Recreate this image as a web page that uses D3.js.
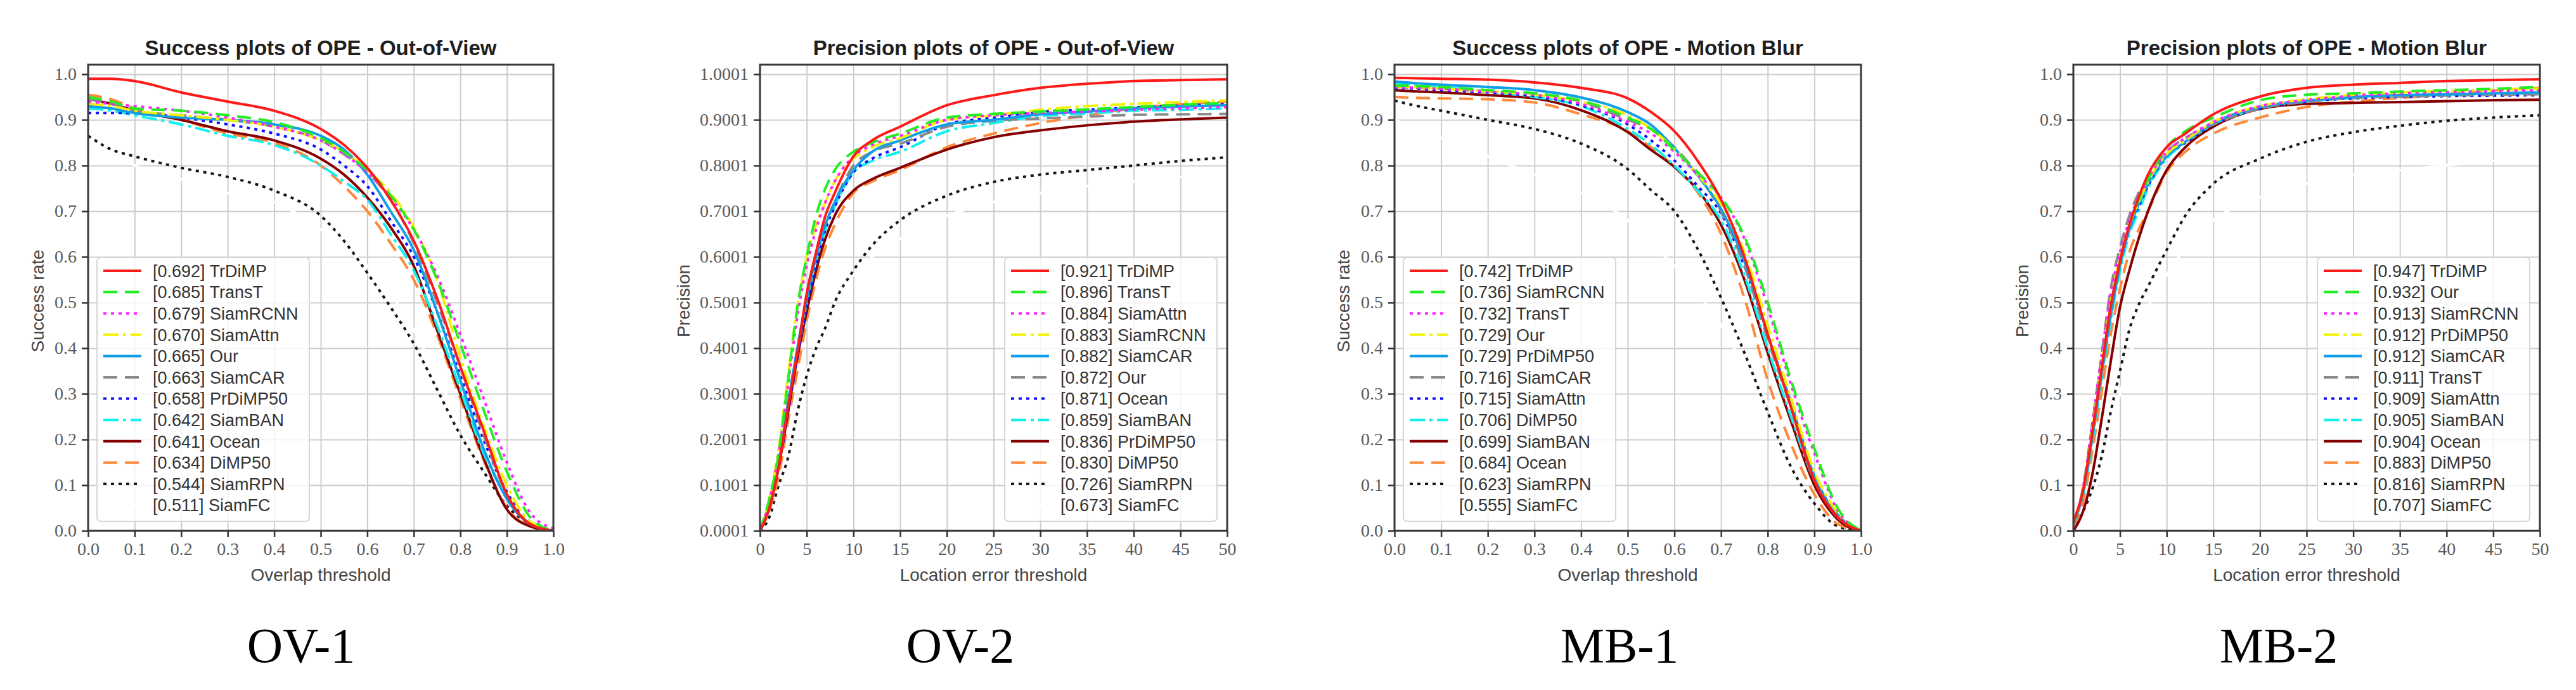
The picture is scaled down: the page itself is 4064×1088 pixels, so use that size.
<!DOCTYPE html>
<html lang="en">
<head>
<meta charset="UTF-8">
<title>OPE plots - Out-of-View / Motion Blur</title>
<script src="https://cdn.jsdelivr.net/npm/d3@7/dist/d3.min.js"></script>
<style>
  html, body { margin: 0; padding: 0; background: #fff; }
  svg { display: block; }
</style>
</head>
<body>
<svg id="chart"></svg>
<script>
const width = 4064;
const height = 1088;

// x thresholds the curves were read at
const overlapX = [0, 0.05, 0.1, 0.2, 0.3, 0.4, 0.5, 0.55, 0.6, 0.65, 0.7, 0.75, 0.8, 0.85, 0.9, 0.95, 1.0];
const errorX = [0, 1, 2, 3, 4, 5, 6, 7, 8, 10, 12, 15, 20, 25, 30, 35, 40, 45, 50];

// ticks
const overlapTicks = [0, 0.1, 0.2, 0.3, 0.4, 0.5, 0.6, 0.7, 0.8, 0.9, 1.0];
const overlapTickLabels = ["0.0", "0.1", "0.2", "0.3", "0.4", "0.5", "0.6", "0.7", "0.8", "0.9", "1.0"];
const errorTicks = [0, 5, 10, 15, 20, 25, 30, 35, 40, 45, 50];
const errorTickLabels = ["0", "5", "10", "15", "20", "25", "30", "35", "40", "45", "50"];
const rateTicks = [0, 0.1, 0.2, 0.3, 0.4, 0.5, 0.6, 0.7, 0.8, 0.9, 1.0];
const rateTickLabels = ["0.0", "0.1", "0.2", "0.3", "0.4", "0.5", "0.6", "0.7", "0.8", "0.9", "1.0"];
const ovPrecTickLabels = ["0.0001", "0.1001", "0.2001", "0.3001", "0.4001", "0.5001", "0.6001", "0.7001", "0.8001", "0.9001", "1.0001"];

// ---- OV-1: success, out-of-view ----
const ov1Names = ["TrDiMP", "TransT", "SiamRCNN", "SiamAttn", "Our", "SiamCAR", "PrDiMP50", "SiamBAN", "Ocean", "DiMP50", "SiamRPN", "SiamFC"];
const ov1Scores = ["0.692", "0.685", "0.679", "0.670", "0.665", "0.663", "0.658", "0.642", "0.641", "0.634", "0.544", "0.511"];
const ov1Curves = [
  [0.99, 0.99, 0.985, 0.96, 0.94, 0.92, 0.88, 0.845, 0.795, 0.725, 0.635, 0.51, 0.36, 0.22, 0.08, 0.015, 0],
  [0.95, 0.94, 0.925, 0.92, 0.91, 0.895, 0.86, 0.83, 0.79, 0.735, 0.66, 0.55, 0.41, 0.265, 0.13, 0.03, 0],
  [0.94, 0.935, 0.93, 0.92, 0.905, 0.885, 0.855, 0.825, 0.785, 0.73, 0.66, 0.56, 0.43, 0.29, 0.15, 0.04, 0.005],
  [0.935, 0.93, 0.92, 0.91, 0.9, 0.885, 0.855, 0.83, 0.79, 0.74, 0.665, 0.55, 0.38, 0.23, 0.1, 0.02, 0],
  [0.93, 0.925, 0.915, 0.905, 0.9, 0.89, 0.865, 0.835, 0.78, 0.7, 0.615, 0.48, 0.33, 0.18, 0.07, 0.015, 0],
  [0.945, 0.935, 0.92, 0.91, 0.9, 0.885, 0.855, 0.825, 0.785, 0.725, 0.63, 0.5, 0.36, 0.21, 0.08, 0.015, 0],
  [0.915, 0.915, 0.915, 0.905, 0.89, 0.87, 0.835, 0.8, 0.755, 0.68, 0.6, 0.48, 0.34, 0.2, 0.085, 0.02, 0],
  [0.925, 0.92, 0.91, 0.89, 0.865, 0.845, 0.8, 0.765, 0.725, 0.65, 0.57, 0.45, 0.31, 0.17, 0.075, 0.015, 0],
  [0.945, 0.935, 0.92, 0.9, 0.875, 0.855, 0.815, 0.78, 0.73, 0.665, 0.58, 0.44, 0.3, 0.16, 0.047, 0.01, 0],
  [0.955, 0.945, 0.925, 0.9, 0.87, 0.85, 0.8, 0.755, 0.7, 0.63, 0.55, 0.43, 0.29, 0.155, 0.05, 0.01, 0],
  [0.865, 0.835, 0.82, 0.795, 0.775, 0.745, 0.69, 0.635, 0.565, 0.49, 0.41, 0.31, 0.21, 0.13, 0.055, 0.015, 0],
  [0.88, 0.83, 0.8, 0.77, 0.74, 0.72, 0.66, 0.62, 0.58, 0.52, 0.44, 0.34, 0.23, 0.13, 0.05, 0.01, 0]
];

// ---- OV-2: precision, out-of-view ----
const ov2Names = ["TrDiMP", "TransT", "SiamAttn", "SiamRCNN", "SiamCAR", "Our", "Ocean", "SiamBAN", "PrDiMP50", "DiMP50", "SiamRPN", "SiamFC"];
const ov2Scores = ["0.921", "0.896", "0.884", "0.883", "0.882", "0.872", "0.871", "0.859", "0.836", "0.830", "0.726", "0.673"];
const ov2Curves = [
  [0, 0.05, 0.14, 0.27, 0.39, 0.52, 0.61, 0.69, 0.74, 0.82, 0.855, 0.885, 0.932, 0.954, 0.97, 0.979, 0.985, 0.987, 0.989],
  [0, 0.07, 0.17, 0.33, 0.49, 0.6, 0.69, 0.75, 0.79, 0.83, 0.85, 0.87, 0.905, 0.913, 0.918, 0.923, 0.928, 0.933, 0.937],
  [0, 0.065, 0.17, 0.32, 0.47, 0.58, 0.66, 0.72, 0.765, 0.82, 0.845, 0.865, 0.9, 0.91, 0.915, 0.918, 0.922, 0.925, 0.928],
  [0, 0.07, 0.18, 0.34, 0.49, 0.6, 0.67, 0.72, 0.765, 0.815, 0.84, 0.86, 0.9, 0.91, 0.922, 0.93, 0.935, 0.939, 0.943],
  [0, 0.06, 0.15, 0.28, 0.4, 0.51, 0.6, 0.67, 0.72, 0.79, 0.83, 0.855, 0.89, 0.9, 0.912, 0.918, 0.925, 0.929, 0.932],
  [0, 0.06, 0.15, 0.28, 0.4, 0.51, 0.6, 0.67, 0.72, 0.8, 0.83, 0.848, 0.885, 0.898, 0.903, 0.907, 0.911, 0.912, 0.913],
  [0, 0.055, 0.14, 0.26, 0.38, 0.49, 0.58, 0.66, 0.71, 0.785, 0.815, 0.84, 0.89, 0.905, 0.918, 0.922, 0.927, 0.931, 0.935],
  [0, 0.06, 0.15, 0.28, 0.39, 0.5, 0.59, 0.66, 0.71, 0.785, 0.81, 0.83, 0.875, 0.893, 0.908, 0.914, 0.92, 0.922, 0.925],
  [0, 0.05, 0.14, 0.26, 0.38, 0.48, 0.57, 0.64, 0.69, 0.745, 0.77, 0.795, 0.835, 0.862, 0.877, 0.888, 0.896, 0.901, 0.905],
  [0, 0.045, 0.12, 0.24, 0.35, 0.46, 0.55, 0.62, 0.67, 0.74, 0.765, 0.79, 0.84, 0.87, 0.893, 0.91, 0.925, 0.934, 0.94],
  [0, 0.03, 0.1, 0.16, 0.26, 0.34, 0.4, 0.445, 0.5, 0.57, 0.625, 0.68, 0.734, 0.764, 0.78, 0.79, 0.8, 0.81, 0.818],
  [0, 0.02, 0.08, 0.17, 0.26, 0.35, 0.41, 0.46, 0.5, 0.56, 0.6, 0.64, 0.69, 0.72, 0.74, 0.755, 0.765, 0.775, 0.78]
];

// ---- MB-1: success, motion blur ----
const mb1Names = ["TrDiMP", "SiamRCNN", "TransT", "Our", "PrDiMP50", "SiamCAR", "SiamAttn", "DiMP50", "SiamBAN", "Ocean", "SiamRPN", "SiamFC"];
const mb1Scores = ["0.742", "0.736", "0.732", "0.729", "0.729", "0.716", "0.715", "0.706", "0.699", "0.684", "0.623", "0.555"];
const mb1Curves = [
  [0.992, 0.991, 0.99, 0.988, 0.982, 0.97, 0.947, 0.917, 0.875, 0.81, 0.725, 0.6, 0.43, 0.27, 0.11, 0.03, 0],
  [0.975, 0.974, 0.972, 0.965, 0.958, 0.942, 0.905, 0.88, 0.834, 0.785, 0.73, 0.645, 0.5, 0.33, 0.18, 0.05, 0],
  [0.972, 0.97, 0.968, 0.962, 0.955, 0.935, 0.895, 0.87, 0.83, 0.78, 0.73, 0.64, 0.49, 0.32, 0.17, 0.045, 0],
  [0.973, 0.972, 0.968, 0.963, 0.955, 0.94, 0.91, 0.88, 0.836, 0.78, 0.715, 0.61, 0.45, 0.29, 0.13, 0.04, 0],
  [0.984, 0.98, 0.977, 0.972, 0.965, 0.949, 0.917, 0.889, 0.838, 0.778, 0.705, 0.59, 0.43, 0.28, 0.12, 0.035, 0],
  [0.972, 0.97, 0.968, 0.962, 0.958, 0.94, 0.9, 0.88, 0.84, 0.78, 0.7, 0.58, 0.42, 0.27, 0.12, 0.035, 0],
  [0.97, 0.968, 0.965, 0.96, 0.952, 0.932, 0.89, 0.855, 0.811, 0.755, 0.695, 0.58, 0.43, 0.28, 0.12, 0.035, 0],
  [0.98, 0.976, 0.972, 0.962, 0.95, 0.93, 0.88, 0.845, 0.8, 0.745, 0.68, 0.56, 0.4, 0.25, 0.11, 0.03, 0],
  [0.965, 0.962, 0.96, 0.954, 0.947, 0.921, 0.873, 0.834, 0.797, 0.746, 0.67, 0.55, 0.39, 0.24, 0.1, 0.025, 0],
  [0.95, 0.948, 0.947, 0.945, 0.938, 0.912, 0.875, 0.84, 0.797, 0.741, 0.65, 0.51, 0.33, 0.19, 0.08, 0.015, 0],
  [0.942, 0.93, 0.92, 0.9, 0.88, 0.848, 0.792, 0.746, 0.7, 0.617, 0.51, 0.39, 0.26, 0.14, 0.06, 0.01, 0],
  [0.9, 0.88, 0.86, 0.82, 0.78, 0.74, 0.68, 0.63, 0.58, 0.52, 0.45, 0.36, 0.28, 0.18, 0.1, 0.03, 0]
];

// ---- MB-2: precision, motion blur ----
const mb2Names = ["TrDiMP", "Our", "SiamRCNN", "PrDiMP50", "SiamCAR", "TransT", "SiamAttn", "SiamBAN", "Ocean", "DiMP50", "SiamRPN", "SiamFC"];
const mb2Scores = ["0.947", "0.932", "0.913", "0.912", "0.912", "0.911", "0.909", "0.905", "0.904", "0.883", "0.816", "0.707"];
const mb2Curves = [
  [0.02, 0.085, 0.21, 0.35, 0.49, 0.59, 0.67, 0.73, 0.78, 0.84, 0.87, 0.912, 0.951, 0.97, 0.977, 0.981, 0.985, 0.987, 0.989],
  [0.02, 0.085, 0.21, 0.35, 0.49, 0.59, 0.67, 0.725, 0.77, 0.84, 0.875, 0.905, 0.943, 0.955, 0.958, 0.962, 0.965, 0.968, 0.972],
  [0.02, 0.09, 0.23, 0.38, 0.52, 0.61, 0.68, 0.73, 0.77, 0.83, 0.86, 0.895, 0.93, 0.943, 0.953, 0.958, 0.961, 0.963, 0.965],
  [0.02, 0.085, 0.22, 0.36, 0.5, 0.6, 0.67, 0.72, 0.765, 0.825, 0.855, 0.895, 0.93, 0.945, 0.955, 0.96, 0.963, 0.966, 0.968],
  [0.015, 0.08, 0.2, 0.34, 0.47, 0.58, 0.66, 0.715, 0.76, 0.82, 0.852, 0.893, 0.928, 0.942, 0.95, 0.954, 0.956, 0.958, 0.96],
  [0.02, 0.09, 0.23, 0.38, 0.53, 0.62, 0.69, 0.74, 0.77, 0.83, 0.86, 0.89, 0.925, 0.94, 0.948, 0.951, 0.953, 0.955, 0.956],
  [0.015, 0.08, 0.21, 0.35, 0.49, 0.59, 0.66, 0.71, 0.755, 0.82, 0.85, 0.89, 0.925, 0.94, 0.947, 0.95, 0.952, 0.953, 0.954],
  [0.015, 0.075, 0.19, 0.33, 0.46, 0.57, 0.65, 0.7, 0.75, 0.815, 0.85, 0.89, 0.925, 0.94, 0.948, 0.952, 0.955, 0.957, 0.958],
  [0, 0.04, 0.12, 0.24, 0.37, 0.49, 0.57, 0.64, 0.7, 0.79, 0.84, 0.885, 0.924, 0.935, 0.937, 0.939, 0.941, 0.943, 0.944],
  [0.01, 0.06, 0.17, 0.3, 0.43, 0.53, 0.61, 0.66, 0.7, 0.785, 0.83, 0.87, 0.905, 0.928, 0.94, 0.948, 0.956, 0.964, 0.97],
  [0, 0.04, 0.09, 0.16, 0.26, 0.35, 0.44, 0.495, 0.535, 0.615, 0.69, 0.76, 0.815, 0.852, 0.873, 0.887, 0.898, 0.905, 0.91],
  [0, 0.02, 0.07, 0.14, 0.22, 0.3, 0.38, 0.44, 0.49, 0.56, 0.62, 0.68, 0.73, 0.76, 0.78, 0.79, 0.8, 0.81, 0.815]
];

// matplotlib-like line styles, one per legend slot
const lineStyles = [
  { color: "#ff1a1a", dash: null },
  { color: "#22ee22", dash: "22,12" },
  { color: "#ff22ff", dash: "5,7" },
  { color: "#f2f200", dash: "24,7,5,7" },
  { color: "#109ee6", dash: null },
  { color: "#8a8a8a", dash: "22,12" },
  { color: "#1010ff", dash: "5,7" },
  { color: "#10f0f0", dash: "24,7,5,7" },
  { color: "#850000", dash: null },
  { color: "#ff8838", dash: "22,12" },
  { color: "#151515", dash: "5,7" },
  { color: "#ffffff", dash: null }
];

const plotTop = 102, plotBottom = 837;

const panels = [
  {
    title: "Success plots of OPE - Out-of-View", xLabel: "Overlap threshold", yLabel: "Success rate",
    xs: overlapX, xDomain: [0, 1], xTicks: overlapTicks, xTickLabels: overlapTickLabels, yTickLabels: rateTickLabels,
    names: ov1Names, scores: ov1Scores, curves: ov1Curves,
    left: 139, right: 873, legendRight: false, yLabelX: 59, caption: "OV-1", captionX: 475
  },
  {
    title: "Precision plots of OPE - Out-of-View", xLabel: "Location error threshold", yLabel: "Precision",
    xs: errorX, xDomain: [0, 50], xTicks: errorTicks, xTickLabels: errorTickLabels, yTickLabels: ovPrecTickLabels,
    names: ov2Names, scores: ov2Scores, curves: ov2Curves,
    left: 1199, right: 1936, legendRight: true, yLabelX: 1078, caption: "OV-2", captionX: 1515
  },
  {
    title: "Success plots of OPE - Motion Blur", xLabel: "Overlap threshold", yLabel: "Success rate",
    xs: overlapX, xDomain: [0, 1], xTicks: overlapTicks, xTickLabels: overlapTickLabels, yTickLabels: rateTickLabels,
    names: mb1Names, scores: mb1Scores, curves: mb1Curves,
    left: 2200, right: 2936, legendRight: false, yLabelX: 2119, caption: "MB-1", captionX: 2555
  },
  {
    title: "Precision plots of OPE - Motion Blur", xLabel: "Location error threshold", yLabel: "Precision",
    xs: errorX, xDomain: [0, 50], xTicks: errorTicks, xTickLabels: errorTickLabels, yTickLabels: rateTickLabels,
    names: mb2Names, scores: mb2Scores, curves: mb2Curves,
    left: 3271, right: 4007, legendRight: true, yLabelX: 3190, caption: "MB-2", captionX: 3595
  }
];

const svg = d3.select("#chart")
  .attr("width", width)
  .attr("height", height)
  .style("font-family", "'Liberation Sans', Arial, sans-serif");

svg.append("rect").attr("width", width).attr("height", height).attr("fill", "#fff");

panels.forEach((p, pi) => {
  const g = svg.append("g");

  const x = d3.scaleLinear().domain(p.xDomain).range([p.left, p.right]);
  // a little head room above 1.0 like matplotlib's ylim
  const y = d3.scaleLinear().domain([0, 1.0208]).range([plotBottom, plotTop]);

  // grid
  g.append("g")
    .attr("transform", `translate(0,${plotBottom})`)
    .call(d3.axisBottom(x).tickValues(p.xTicks).tickSize(-(plotBottom - plotTop)).tickFormat(""))
    .call(s => s.select(".domain").remove())
    .call(s => s.selectAll("line").attr("stroke", "#cdcdcd").attr("stroke-width", 2));
  g.append("g")
    .attr("transform", `translate(${p.left},0)`)
    .call(d3.axisLeft(y).tickValues(rateTicks).tickSize(-(p.right - p.left)).tickFormat(""))
    .call(s => s.select(".domain").remove())
    .call(s => s.selectAll("line").attr("stroke", "#cdcdcd").attr("stroke-width", 2));

  // curves
  const clipId = "clip" + pi;
  g.append("clipPath").attr("id", clipId)
    .append("rect")
    .attr("x", p.left).attr("y", plotTop)
    .attr("width", p.right - p.left).attr("height", plotBottom - plotTop);

  const line = d3.line()
    .x(d => x(d[0]))
    .y(d => y(d[1]))
    .curve(d3.curveMonotoneX);

  const series = p.curves.map((c, i) => ({ i, pts: c.map((v, k) => [p.xs[k], v]) }));
  // white SiamFC underneath, the rest in reverse legend order so the top scorer sits on top
  const order = [11, 10, 9, 8, 7, 6, 5, 4, 3, 2, 1, 0];

  g.append("g").attr("clip-path", `url(#${clipId})`)
    .selectAll("path")
    .data(order.map(i => series[i]))
    .join("path")
    .attr("d", d => line(d.pts))
    .attr("fill", "none")
    .attr("stroke", d => lineStyles[d.i].color)
    .attr("stroke-width", 4)
    .attr("stroke-dasharray", d => lineStyles[d.i].dash);

  // frame
  g.append("rect")
    .attr("x", p.left).attr("y", plotTop)
    .attr("width", p.right - p.left).attr("height", plotBottom - plotTop)
    .attr("fill", "none").attr("stroke", "#3a3a3a").attr("stroke-width", 3);

  // ticks + labels
  const xAxis = g.append("g")
    .attr("transform", `translate(0,${plotBottom})`)
    .call(d3.axisBottom(x).tickValues(p.xTicks).tickSize(10).tickPadding(8)
      .tickFormat((d, i) => p.xTickLabels[i]));
  const yAxis = g.append("g")
    .attr("transform", `translate(${p.left},0)`)
    .call(d3.axisLeft(y).tickValues(rateTicks).tickSize(10).tickPadding(8)
      .tickFormat((d, i) => p.yTickLabels[i]));
  [xAxis, yAxis].forEach(a => {
    a.select(".domain").remove();
    a.selectAll("line").attr("stroke", "#333").attr("stroke-width", 2.5);
    a.selectAll("text")
      .attr("fill", "#5a5a5a")
      .style("font-family", "'Liberation Serif', 'DejaVu Serif', serif")
      .style("font-size", "28px");
  });

  const cx = (p.left + p.right) / 2;

  // title
  g.append("text")
    .attr("x", cx).attr("y", 87)
    .attr("text-anchor", "middle")
    .attr("fill", "#1e1e1e")
    .style("font-size", "33px")
    .style("font-weight", "bold")
    .text(p.title);

  // axis labels
  g.append("text")
    .attr("x", cx).attr("y", 916)
    .attr("text-anchor", "middle")
    .attr("fill", "#444")
    .style("font-size", "28px")
    .text(p.xLabel);
  g.append("text")
    .attr("transform", `translate(${p.yLabelX + 10},${(plotTop + plotBottom) / 2 + 5}) rotate(-90)`)
    .attr("text-anchor", "middle")
    .attr("fill", "#444")
    .style("font-size", "28px")
    .text(p.yLabel);

  // legend
  const boxW = 335, boxH = 416;
  const boxX = p.legendRight ? p.right - 16 - boxW : p.left + 14;
  const boxY = 406;
  const lg = g.append("g");
  lg.append("rect")
    .attr("x", boxX).attr("y", boxY)
    .attr("width", boxW).attr("height", boxH)
    .attr("rx", 6)
    .attr("fill", "#fff").attr("fill-opacity", 0.8)
    .attr("stroke", "#d6d6d6").attr("stroke-width", 2);

  const rows = lg.selectAll("g.row")
    .data(p.names.map((n, i) => ({ n, i })))
    .join("g")
    .attr("class", "row")
    .attr("transform", d => `translate(${boxX},${boxY + 21 + d.i * 33.6})`);
  rows.append("line")
    .attr("x1", 10).attr("x2", 70)
    .attr("stroke", d => lineStyles[d.i].color)
    .attr("stroke-width", 4)
    .attr("stroke-dasharray", d => lineStyles[d.i].dash);
  rows.append("text")
    .attr("x", 88).attr("dy", "0.36em")
    .attr("fill", "#333")
    .style("font-size", "27px")
    .text(d => `[${p.scores[d.i]}] ${d.n}`);

  // caption under the panel
  svg.append("text")
    .attr("x", p.captionX).attr("y", 1044)
    .attr("text-anchor", "middle")
    .attr("fill", "#000")
    .style("font-family", "'Liberation Serif', 'Times New Roman', serif")
    .style("font-size", "78px")
    .text(p.caption);
});
</script>
</body>
</html>
